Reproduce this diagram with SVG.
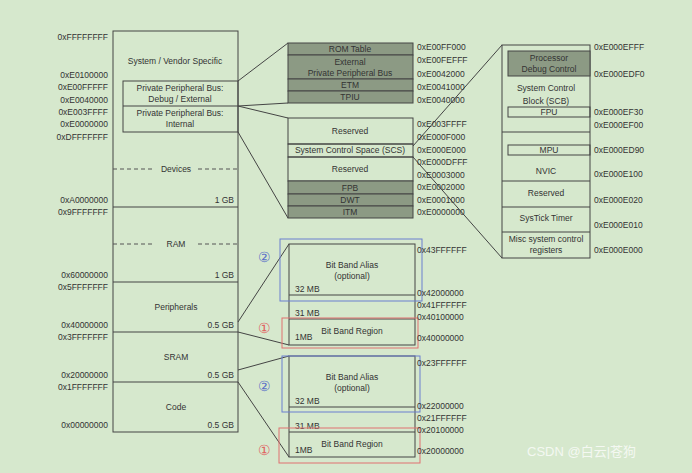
<svg xmlns="http://www.w3.org/2000/svg" width="692" height="473" viewBox="0 0 692 473">
<style>
text{font-family:"Liberation Sans",Arial,sans-serif;font-size:8.5px;fill:#333}
.a{text-anchor:end}
.m{text-anchor:middle}
.b{fill:none;stroke:#444;stroke-width:1}
.d{fill:#8c9a84;stroke:#444;stroke-width:1}
.c line,.c polyline{stroke:#444;stroke-width:1;fill:none}
.dash{stroke:#555;stroke-dasharray:4 3}
</style>
<rect width="692" height="473" fill="#d6e8cd"/>
<g class="c" id="connectors">
<line x1="238" y1="81" x2="288" y2="43"/>
<line x1="238" y1="106" x2="288" y2="103"/>
<line x1="238" y1="106" x2="288" y2="118"/>
<line x1="238" y1="132" x2="288" y2="218"/>
<line x1="413" y1="146" x2="502" y2="45"/>
<line x1="413" y1="157" x2="502" y2="258"/>
<line x1="238" y1="322" x2="289" y2="244"/>
<line x1="238" y1="332" x2="289" y2="345"/>
<line x1="238" y1="370" x2="289" y2="356"/>
<line x1="238" y1="382" x2="289" y2="457"/>
</g>
<g id="memmap">
<rect class="b" x="113" y="31" width="125" height="401"/>
<text class="m" x="175" y="64">System / Vendor Specific</text>
<rect class="b" x="123" y="81" width="115" height="51"/>
<line class="b" x1="123" y1="106" x2="238" y2="106"/>
<text class="m" x="180" y="91">Private Peripheral Bus:</text>
<text class="m" x="180" y="102">Debug / External</text>
<text class="m" x="180" y="116">Private Peripheral Bus:</text>
<text class="m" x="180" y="127">Internal</text>
<line class="dash" x1="113" y1="169" x2="155" y2="169"/><line class="dash" x1="198" y1="169" x2="238" y2="169"/>
<text class="m" x="176" y="172">Devices</text>
<text class="a" x="234" y="203">1 GB</text>
<line class="b" x1="113" y1="207" x2="238" y2="207"/>
<line class="dash" x1="113" y1="244" x2="155" y2="244"/><line class="dash" x1="198" y1="244" x2="238" y2="244"/>
<text class="m" x="176" y="247">RAM</text>
<text class="a" x="234" y="278">1 GB</text>
<line class="b" x1="113" y1="282" x2="238" y2="282"/>
<text class="m" x="176" y="310">Peripherals</text>
<text class="a" x="234" y="328">0.5 GB</text>
<line class="b" x1="113" y1="332" x2="238" y2="332"/>
<text class="m" x="176" y="360">SRAM</text>
<text class="a" x="234" y="378">0.5 GB</text>
<line class="b" x1="113" y1="382" x2="238" y2="382"/>
<text class="m" x="176" y="410">Code</text>
<text class="a" x="234" y="428">0.5 GB</text>
<g class="a">
<text class="a" x="108" y="40">0xFFFFFFFF</text>
<text class="a" x="108" y="78">0xE0100000</text>
<text class="a" x="108" y="90">0xE00FFFFF</text>
<text class="a" x="108" y="103">0xE0040000</text>
<text class="a" x="108" y="115">0xE003FFFF</text>
<text class="a" x="108" y="127">0xE0000000</text>
<text class="a" x="108" y="140">0xDFFFFFFF</text>
<text class="a" x="108" y="203">0xA0000000</text>
<text class="a" x="108" y="215">0x9FFFFFFF</text>
<text class="a" x="108" y="278">0x60000000</text>
<text class="a" x="108" y="290">0x5FFFFFFF</text>
<text class="a" x="108" y="328">0x40000000</text>
<text class="a" x="108" y="340">0x3FFFFFFF</text>
<text class="a" x="108" y="378">0x20000000</text>
<text class="a" x="108" y="390">0x1FFFFFFF</text>
<text class="a" x="108" y="428">0x00000000</text>
</g>
</g>
<g id="ppb-external">
<rect class="d" x="288" y="43" width="125" height="12"/>
<rect class="d" x="288" y="55" width="125" height="24"/>
<rect class="d" x="288" y="79" width="125" height="12"/>
<rect class="d" x="288" y="91" width="125" height="12"/>
<text class="m" x="350" y="52">ROM Table</text>
<text class="m" x="350" y="65">External</text>
<text class="m" x="350" y="76">Private Peripheral Bus</text>
<text class="m" x="350" y="88">ETM</text>
<text class="m" x="350" y="100">TPIU</text>
<text x="417" y="50">0xE00FF000</text>
<text x="417" y="63">0xE00FEFFF</text>
<text x="417" y="77">0xE0042000</text>
<text x="417" y="90">0xE0041000</text>
<text x="417" y="103">0xE0040000</text>
</g>
<g id="ppb-internal">
<rect class="b" x="288" y="118" width="125" height="26"/>
<rect class="b" x="288" y="144" width="125" height="13"/>
<rect class="b" x="288" y="157" width="125" height="24"/>
<rect class="d" x="288" y="181" width="125" height="13"/>
<rect class="d" x="288" y="194" width="125" height="12"/>
<rect class="d" x="288" y="206" width="125" height="12"/>
<text class="m" x="350" y="134">Reserved</text>
<text class="m" x="350" y="153">System Control Space (SCS)</text>
<text class="m" x="350" y="172">Reserved</text>
<text class="m" x="350" y="191">FPB</text>
<text class="m" x="350" y="203">DWT</text>
<text class="m" x="350" y="215">ITM</text>
<text x="417" y="127">0xE003FFFF</text>
<text x="417" y="140">0xE000F000</text>
<text x="417" y="153">0xE000E000</text>
<text x="417" y="165">0xE000DFFF</text>
<text x="417" y="178">0xE0003000</text>
<text x="417" y="190">0xE0002000</text>
<text x="417" y="203">0xE0001000</text>
<text x="417" y="215">0xE0000000</text>
</g>
<g id="scs">
<rect class="b" x="502" y="45" width="88" height="213"/>
<rect class="d" x="508" y="51" width="82" height="25"/>
<text class="m" x="549" y="61">Processor</text>
<text class="m" x="549" y="72">Debug Control</text>
<text class="m" x="546" y="91">System Control</text>
<text class="m" x="546" y="104">Block (SCB)</text>
<rect class="b" x="508" y="107" width="82" height="10"/>
<text class="m" x="549" y="115">FPU</text>
<line class="b" x1="502" y1="132" x2="590" y2="132"/>
<rect class="b" x="508" y="145" width="82" height="10"/>
<text class="m" x="549" y="153">MPU</text>
<text class="m" x="546" y="174">NVIC</text>
<line class="b" x1="502" y1="181" x2="590" y2="181"/>
<text class="m" x="546" y="196">Reserved</text>
<line class="b" x1="502" y1="207" x2="590" y2="207"/>
<text class="m" x="546" y="221">SysTick Timer</text>
<line class="b" x1="502" y1="232" x2="590" y2="232"/>
<text class="m" x="546" y="242">Misc system control</text>
<text class="m" x="546" y="253">registers</text>
<text x="594" y="50">0xE000EFFF</text>
<text x="594" y="77">0xE000EDF0</text>
<text x="594" y="115">0xE000EF30</text>
<text x="594" y="128">0xE000EF00</text>
<text x="594" y="153">0xE000ED90</text>
<text x="594" y="177">0xE000E100</text>
<text x="594" y="203">0xE000E020</text>
<text x="594" y="228">0xE000E010</text>
<text x="594" y="253">0xE000E000</text>
</g>
<g id="bitband-periph">
<rect class="b" x="289" y="244" width="126" height="101"/>
<line class="b" x1="289" y1="295" x2="415" y2="295"/>
<line class="b" x1="289" y1="319" x2="415" y2="319"/>
<text class="m" x="352" y="268">Bit Band Alias</text>
<text class="m" x="352" y="279">(optional)</text>
<text x="295" y="292">32 MB</text>
<text x="295" y="316">31 MB</text>
<text x="295" y="340">1MB</text>
<text class="m" x="352" y="334">Bit Band Region</text>
<rect x="280" y="239" width="142" height="62" fill="none" stroke="#6a7fd0"/>
<rect x="282" y="318" width="136" height="30" fill="none" stroke="#e07070"/>
<text x="258" y="262" style="font-size:14px;fill:#5a70c8">②</text>
<text x="258" y="333" style="font-size:14px;fill:#e06060">①</text>
<text x="417" y="253">0x43FFFFFF</text>
<text x="417" y="296">0x42000000</text>
<text x="417" y="308">0x41FFFFFF</text>
<text x="417" y="320">0x40100000</text>
<text x="417" y="341">0x40000000</text>
</g>
<g id="bitband-sram">
<rect class="b" x="289" y="356" width="126" height="101"/>
<line class="b" x1="289" y1="407" x2="415" y2="407"/>
<line class="b" x1="289" y1="432" x2="415" y2="432"/>
<text class="m" x="352" y="380">Bit Band Alias</text>
<text class="m" x="352" y="391">(optional)</text>
<text x="295" y="404">32 MB</text>
<text x="295" y="429">31 MB</text>
<text x="295" y="453">1MB</text>
<text class="m" x="352" y="447">Bit Band Region</text>
<rect x="282" y="356" width="138" height="56" fill="none" stroke="#6a7fd0"/>
<rect x="279" y="428" width="141" height="35" fill="none" stroke="#e07070"/>
<text x="258" y="391" style="font-size:14px;fill:#5a70c8">②</text>
<text x="258" y="455" style="font-size:14px;fill:#e06060">①</text>
<text x="417" y="366">0x23FFFFFF</text>
<text x="417" y="409">0x22000000</text>
<text x="417" y="421">0x21FFFFFF</text>
<text x="417" y="433">0x20100000</text>
<text x="417" y="454">0x20000000</text>
</g>
<text x="527" y="456" style="font-size:13px;fill:#f4f8f2;font-family:'Liberation Sans','Noto Sans CJK SC',sans-serif">CSDN @白云|苍狗</text>
</svg>
